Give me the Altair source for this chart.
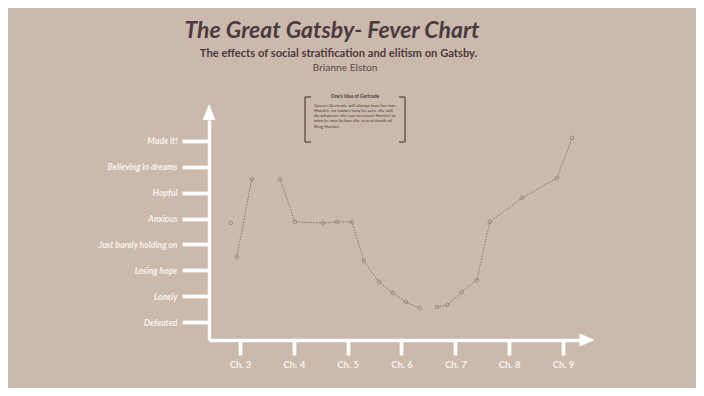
import json
import altair as alt
import pandas as pd

# ---- data ----
LEVELS = ["Defeated", "Lonely", "Losing hope", "Just barely holding on",
          "Anxious", "Hopful", "Believing in dreams", "Made it!"]
LEVEL_VALUES = [1, 2, 3, 4, 5, 6, 7, 8]
CHAPTERS = ["Ch. 3", "Ch. 4", "Ch. 5", "Ch. 6", "Ch. 7", "Ch. 8", "Ch. 9"]
CHAPTER_VALUES = [3, 4, 5, 6, 7, 8, 9]

FEVER_CH = [2.83, 2.94, 3.22, 3.74, 4.02, 4.54, 4.80, 5.08, 5.30, 5.58, 5.84,
            6.08, 6.34, 6.66, 6.85, 7.12, 7.40, 7.64, 8.24, 8.89, 9.17]
FEVER_LEVEL = [4.83, 3.51, 6.53, 6.53, 4.87, 4.83, 4.87, 4.87, 3.36, 2.55, 2.12,
               1.77, 1.54, 1.58, 1.66, 2.16, 2.62, 4.87, 5.80, 6.57, 8.12]
FEVER_SEGMENT = [0, 1, 1, 2, 2, 2, 2, 2, 2, 2, 2, 2, 2, 3, 3, 3, 3, 3, 3, 3, 3]

TITLE = "The Great Gatsby- Fever Chart"
SUBTITLE = "The effects of social stratification and elitism on Gatsby."
AUTHOR = "Brianne Elston"
NOTE_TITLE = "One's Idea of Gertrude"
NOTE_LINES = ["Queen Gertrude will always love her son,",
              "Hamlet, no matter how he acts. she will",
              "do whatever she can to return Hamlet to",
              "who he was before the recent death of",
              "King Hamlet."]

# ---- styling ----
BG = "#CBB9AB"
AXIS = "#FFFFFF"
LABEL = "#F7F2EE"
DARK = "#4B3A41"
LINE = "#80706A"
FONT = "Lato"
W, H = 371, 220

fever = pd.DataFrame({"ch": FEVER_CH, "level": FEVER_LEVEL, "seg": FEVER_SEGMENT})
dummy = pd.DataFrame({"d": [0]})

x_scale = alt.Scale(domain=[2.424, 9.316], nice=False, zero=False)
y_scale = alt.Scale(domain=[0.304, 8.811], nice=False, zero=False)

y_expr = f"{json.dumps(LEVELS)}[indexof({json.dumps(LEVEL_VALUES)}, datum.value)]"
x_expr = f"{json.dumps(CHAPTERS)}[indexof({json.dumps(CHAPTER_VALUES)}, datum.value)]"

x_enc = alt.X("ch:Q", scale=x_scale, title=None,
              axis=alt.Axis(values=CHAPTER_VALUES, labelExpr=x_expr, grid=False,
                            labelOverlap=False,
                            domainColor=AXIS, domainWidth=3.5, tickColor=AXIS,
                            tickWidth=3.8, tickSize=15, labelPadding=4,
                            labelColor=LABEL, labelFont=FONT, labelFontSize=9.5,
                            labelFontWeight="bold"))
y_enc = alt.Y("level:Q", scale=y_scale, title=None,
              axis=alt.Axis(values=LEVEL_VALUES, labelExpr=y_expr, grid=False,
                            labelOverlap=False,
                            domainColor=AXIS, domainWidth=3.5, tickColor=AXIS,
                            tickWidth=3.8, tickSize=27, labelPadding=5,
                            labelColor=LABEL, labelFont=FONT, labelFontSize=8.6,
                            labelFontStyle="italic", labelFontWeight="bold"))

line = alt.Chart(fever).mark_line(color=LINE, strokeWidth=1, strokeDash=[1.6, 1.3],
                                  opacity=0.9).encode(x=x_enc, y=y_enc, detail="seg:N")
pts = alt.Chart(fever).mark_point(shape="circle", size=14, filled=False, stroke=LINE,
                                  strokeWidth=0.8, opacity=0.7).encode(x=x_enc, y=y_enc)


def text(t, x, y, size, weight="normal", style="normal", align="center",
         color=DARK, baseline="alphabetic", **kw):
    return alt.Chart(dummy).mark_text(
        text=t, font=FONT, fontSize=size, fontWeight=weight, fontStyle=style,
        align=align, baseline=baseline, color=color, **kw
    ).encode(x=alt.value(x), y=alt.value(y))


def rule(x, y, x2=None, y2=None, color="#6E5F5C", width=1.6):
    enc = dict(x=alt.value(x), y=alt.value(y))
    if x2 is not None:
        enc["x2"] = alt.value(x2)
    if y2 is not None:
        enc["y2"] = alt.value(y2)
    return alt.Chart(dummy).mark_rule(color=color, strokeWidth=width).encode(**enc)


arrow_up = alt.Chart(dummy).mark_point(
    shape="M0,-1L-0.8,1L0.8,1Z", size=256, filled=True, color=AXIS, opacity=1,
    strokeWidth=0).encode(x=alt.value(0), y=alt.value(-8))
arrow_right = alt.Chart(dummy).mark_point(
    shape="M1,0L-1,-0.9L-1,0.9Z", size=225, filled=True, color=AXIS, opacity=1,
    strokeWidth=0).encode(x=alt.value(W + 7), y=alt.value(H))

titles = [
    text(TITLE, 123, -82, 23, weight="bold", style="italic"),
    text(SUBTITLE, 129.5, -63.5, 11.2, weight="bold"),
    text(AUTHOR, 136, -49, 10.2, color="#5B4B4F"),
    text(NOTE_TITLE, 146, -22.5, 4.8, weight="bold"),
    text("\n".join(NOTE_LINES), 105, -17.5, 4.6, align="left", baseline="top",
         lineBreak="\n", lineHeight=5.3),
]
brackets = [
    rule(96, -23, y2=22), rule(96, -23, x2=102), rule(96, 22, x2=102),
    rule(196, -23, y2=22), rule(190, -23, x2=196), rule(190, 22, x2=196),
]

chart = alt.layer(line, pts, arrow_up, arrow_right, *titles, *brackets).properties(
    width=W, height=H,
    autosize=alt.AutoSizeParams(type="none"),
    padding={"left": 201, "top": 112, "right": 116, "bottom": 48},
    background=BG,
).configure_view(stroke=None)

chart.save("out.html", embed_options={"renderer": "svg", "actions": False})
